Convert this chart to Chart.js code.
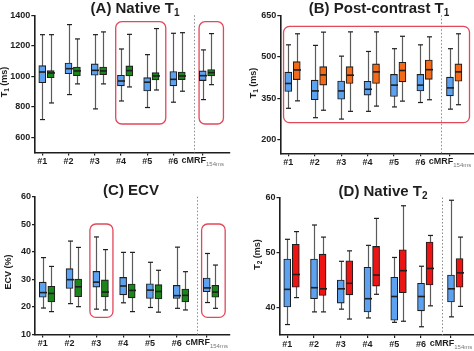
<!DOCTYPE html>
<html>
<head>
<meta charset="utf-8">
<script src="https://cdn.jsdelivr.net/npm/chart.js@4.4.0/dist/chart.umd.min.js"></script>
<style>
  html, body { margin: 0; padding: 0; background: #fff; }
  #wrap { position: relative; width: 474px; height: 351px; overflow: hidden; }
  canvas { position: absolute; }
</style>
</head>
<body>
<div id="wrap">
  <canvas id="pA" width="237" height="175" style="left:0;top:0"></canvas>
  <canvas id="pB" width="237" height="175" style="left:237px;top:0"></canvas>
  <canvas id="pC" width="237" height="176" style="left:0;top:175px"></canvas>
  <canvas id="pD" width="237" height="176" style="left:237px;top:175px"></canvas>
</div>
<script>
const categories = ["#1", "#2", "#3", "#4", "#5", "#6", "cMRF"];

// each entry: [min, q1, median, q3, max]
const nativeT1Blue = [[716, 958, 1028, 1070, 1273], [880, 1017, 1050, 1087, 1339], [786, 1007, 1039, 1081, 1273], [838, 937, 969, 1007, 1179], [795, 904, 961, 991, 1142], [830, 937, 980, 1031, 1282], [847, 972, 1004, 1035, 1173]];
const nativeT1Green = [[825, 991, 1022, 1037, 1273], [950, 1004, 1035, 1061, 1245], [950, 1011, 1035, 1061, 1291], [930, 1002, 1037, 1068, 1275], [910, 976, 1002, 1024, 1313], [902, 978, 1002, 1028, 1286], [945, 1002, 1024, 1044, 1280]];
const postT1Blue = [[313, 374, 403, 444, 543], [279, 344, 376, 415, 541], [274, 346, 376, 412, 502], [302, 361, 382, 411, 519], [318, 356, 397, 436, 529], [334, 376, 397, 436, 543], [310, 358, 387, 426, 529]];
const postT1Orange = [[340, 417, 452, 482, 583], [306, 397, 434, 464, 589], [302, 403, 433, 464, 590], [321, 403, 445, 474, 590], [339, 409, 450, 480, 574], [344, 418, 453, 488, 572], [326, 411, 445, 474, 583]];
const ecvBlue = [[19.6, 23.5, 25.2, 29.0, 37.9], [21.2, 26.7, 29.9, 33.9, 43.9], [19.2, 27.2, 29.0, 32.9, 45.4], [21.5, 24.4, 27.6, 30.7, 39.8], [19.8, 23.1, 26.1, 28.4, 36.2], [19.5, 23.1, 24.1, 27.8, 41.7], [21.6, 25.5, 26.9, 30.5, 39.4]];
const ecvGreen = [[18.3, 21.8, 24.9, 27.5, 34.7], [20.1, 23.7, 27.3, 30.1, 41.6], [18.9, 23.6, 25.4, 29.8, 40.8], [18.3, 23.3, 26.0, 28.3, 39.8], [18.1, 22.9, 25.6, 28.1, 33.3], [18.9, 21.8, 24.2, 26.5, 32.8], [19.5, 23.5, 25.4, 27.8, 35.2]];
const nativeT2Blue = [[36.9, 40.1, 43.3, 48.8, 52.4], [39.2, 41.6, 43.6, 48.8, 55.0], [39.7, 40.8, 43.4, 45.0, 48.4], [38.1, 39.2, 41.6, 47.3, 51.3], [37.3, 37.7, 42.0, 45.5, 49.1], [36.5, 39.4, 42.0, 44.4, 47.5], [38.3, 41.0, 43.4, 45.9, 59.5]];
const nativeT2Red = [[41.8, 43.7, 46.0, 51.5, 53.8], [39.2, 42.2, 43.4, 49.7, 52.8], [37.9, 42.3, 44.4, 48.5, 50.3], [42.4, 43.9, 45.9, 51.1, 56.2], [37.5, 42.7, 46.7, 50.5, 58.5], [40.3, 44.1, 47.1, 51.9, 53.1], [40.2, 43.7, 46.3, 48.9, 52.8]];

const nativeT1Ticks = [600, 800, 1000, 1200, 1400];
const postT1Ticks = [200, 350, 500, 650];
const ecvTicks = [10, 20, 30, 40, 50, 60];
const nativeT2Ticks = [40, 50, 60];

// layout: category slots on a linear x axis (cMRF set apart by the divider)
const slotPos = [1, 2, 3, 4, 5, 6, 7.12];
const pairShift = 0.32;
const dividerAt = 6.77;
const FONT = '"Liberation Sans", Arial, sans-serif';
const INK = "#1e1e1e";

const boxPlugin = {
  id: "boxes",
  beforeDatasetsDraw(chart) {
    const { ctx, chartArea: a, scales: { x, y } } = chart;
    const p = chart.options.plugins.boxes;
    ctx.save();
    // divider
    const dx = Math.round(x.getPixelForValue(dividerAt)) + 0.5;
    ctx.strokeStyle = "#8a8a8a";
    ctx.lineWidth = 1;
    ctx.setLineDash([1.5, 2]);
    ctx.beginPath();
    ctx.moveTo(dx, a.top);
    ctx.lineTo(dx, a.bottom);
    ctx.stroke();
    ctx.setLineDash([]);
    // highlight frames
    ctx.strokeStyle = "#e2475a";
    ctx.lineWidth = 1.3;
    p.frames.forEach(([x0, x1, y0, y1]) => {
      const l = x.getPixelForValue(x0), r = x.getPixelForValue(x1);
      const t = y.getPixelForValue(y1), b = y.getPixelForValue(y0);
      ctx.beginPath();
      ctx.roundRect(l, t, r - l, b - t, 6);
      ctx.stroke();
    });
    // whisker stems
    ctx.strokeStyle = "#5a5a5a";
    ctx.lineWidth = 1.2;
    p.stats.forEach((series, si) => {
      series.forEach((s, i) => {
        const px = Math.round(x.getPixelForValue(slotPos[i] + si * pairShift)) + 0.5;
        ctx.beginPath();
        ctx.moveTo(px, y.getPixelForValue(s[0]));
        ctx.lineTo(px, y.getPixelForValue(s[4]));
        ctx.stroke();
      });
    });
    ctx.restore();
  },
  afterDatasetsDraw(chart) {
    const { ctx, scales: { x, y } } = chart;
    const p = chart.options.plugins.boxes;
    ctx.save();
    ctx.strokeStyle = INK;
    p.stats.forEach((series, si) => {
      series.forEach((s, i) => {
        const px = Math.round(x.getPixelForValue(slotPos[i] + si * pairShift)) + 0.5;
        ctx.lineWidth = 1.2;
        [s[0], s[4]].forEach((v) => {
          const py = y.getPixelForValue(v);
          ctx.beginPath();
          ctx.moveTo(px - 2.5, py);
          ctx.lineTo(px + 2.5, py);
          ctx.stroke();
        });
        ctx.lineWidth = 1.6;
        const my = y.getPixelForValue(s[2]);
        ctx.beginPath();
        ctx.moveTo(px - 3.5, my);
        ctx.lineTo(px + 3.5, my);
        ctx.stroke();
      });
    });
    ctx.restore();
  },
  afterDraw(chart) {
    const { ctx, scales: { x } } = chart;
    const p = chart.options.plugins.boxes;
    ctx.save();
    ctx.fillStyle = INK;
    ctx.textBaseline = "alphabetic";
    // panel title
    ctx.font = "bold 15px " + FONT;
    const mainW = ctx.measureText(p.title[0]).width;
    ctx.font = "bold 10px " + FONT;
    const subW = p.title[1] ? ctx.measureText(p.title[1]).width : 0;
    let tx = p.titleAt[0] - (mainW + subW) / 2;
    ctx.font = "bold 15px " + FONT;
    ctx.textAlign = "left";
    ctx.fillText(p.title[0], tx, p.titleAt[1]);
    if (p.title[1]) {
      ctx.font = "bold 10px " + FONT;
      ctx.fillText(p.title[1], tx + mainW, p.titleAt[1] + 3);
    }
    // y axis title (rotated)
    const parts = p.yTitle;
    ctx.font = "bold 9px " + FONT;
    const w0 = ctx.measureText(parts[0]).width;
    const w2 = ctx.measureText(parts[2]).width;
    ctx.font = "bold 6.5px " + FONT;
    const w1 = parts[1] ? ctx.measureText(parts[1]).width : 0;
    ctx.translate(p.yTitleAt[0], p.yTitleAt[1]);
    ctx.rotate(-Math.PI / 2);
    ctx.textBaseline = "middle";
    let ox = -(w0 + w1 + w2) / 2;
    ctx.font = "bold 9px " + FONT;
    ctx.fillText(parts[0], ox, 0);
    if (parts[1]) {
      ctx.font = "bold 6.5px " + FONT;
      ctx.fillText(parts[1], ox + w0, 2.5);
    }
    ctx.font = "bold 9px " + FONT;
    ctx.fillText(parts[2], ox + w0 + w1, 0);
    ctx.setTransform(1, 0, 0, 1, 0, 0);
    // cMRF tick label with subscript
    const cx = x.getPixelForValue(slotPos[6]);
    const ty = x.top + 4;
    ctx.textBaseline = "top";
    ctx.font = "bold 9px " + FONT;
    const cw = ctx.measureText("cMRF").width;
    ctx.font = "6px " + FONT;
    const sw = ctx.measureText("154ms").width;
    const sx = cx - (cw + sw) / 2;
    ctx.font = "bold 9px " + FONT;
    ctx.fillStyle = INK;
    ctx.fillText("cMRF", sx, ty);
    ctx.font = "6px " + FONT;
    ctx.fillStyle = "#777";
    ctx.fillText("154ms", sx + cw, ty + 5);
    ctx.restore();
  }
};

function makePanel(id, cfg) {
  const canvas = document.getElementById(id);
  const W = canvas.width, H = canvas.height;
  const tickFont = { family: FONT, size: 9, weight: "bold" };
  const toBars = (stats, shift) => stats.map((s, i) => ({ x: slotPos[i] + shift, y: [s[1], s[3]] }));
  return new Chart(canvas, {
    type: "bar",
    data: {
      datasets: [
        { data: toBars(cfg.blue, 0), backgroundColor: "#5ca2f0", borderColor: INK, borderWidth: 1.1, borderSkipped: false },
        { data: toBars(cfg.other, pairShift), backgroundColor: cfg.otherColor, borderColor: INK, borderWidth: 1.1, borderSkipped: false }
      ]
    },
    options: {
      responsive: false,
      animation: false,
      events: [],
      datasets: { bar: { grouped: false, barThickness: 7 } },
      layout: { padding: { left: 0, top: cfg.area.top, right: W - cfg.area.right, bottom: 0 } },
      plugins: {
        legend: { display: false },
        tooltip: { enabled: false },
        boxes: {
          stats: [cfg.blue, cfg.other],
          frames: cfg.frames,
          title: cfg.title,
          titleAt: cfg.titleAt,
          yTitle: cfg.yTitle,
          yTitleAt: cfg.yTitleAt
        }
      },
      scales: {
        x: {
          type: "linear",
          min: cfg.xRange[0],
          max: cfg.xRange[1],
          offset: false,
          afterBuildTicks: (s) => { s.ticks = slotPos.map((v) => ({ value: v })); },
          afterFit: (s) => { s.height = H - cfg.area.bottom; },
          ticks: {
            autoSkip: false,
            maxRotation: 0,
            padding: 1,
            color: INK,
            font: tickFont,
            callback: (v, i) => (i < 6 ? categories[i] : "")
          },
          grid: { offset: false, drawOnChartArea: false, drawTicks: true, tickLength: 3, color: INK, lineWidth: 1.2 },
          border: { display: true, color: INK, width: 1.6 }
        },
        y: {
          min: cfg.yRange[0],
          max: cfg.yRange[1],
          afterBuildTicks: (s) => { s.ticks = cfg.yTicks.map((v) => ({ value: v })); },
          afterFit: (s) => { s.width = cfg.area.left; },
          ticks: { padding: 1, color: INK, font: tickFont, callback: (v) => String(v) },
          grid: { drawOnChartArea: false, drawTicks: true, tickLength: 3, color: INK, lineWidth: 1.2 },
          border: { display: true, color: INK, width: 1.6 }
        }
      }
    },
    plugins: [boxPlugin]
  });
}

makePanel("pA", {
  blue: nativeT1Blue, other: nativeT1Green, otherColor: "#1a861a",
  area: { left: 34.3, top: 15.3, right: 230, bottom: 152.5 },
  xRange: [0.695, 8.16], yRange: [500, 1400], yTicks: nativeT1Ticks,
  frames: [[3.8, 5.71, 687, 1358], [6.98, 7.91, 687, 1358]],
  title: ["(A) Native T", "1"], titleAt: [135, 12.5],
  yTitle: ["T", "1", " (ms)"], yTitleAt: [5, 82]
});
makePanel("pB", {
  blue: postT1Blue, other: postT1Orange, otherColor: "#f36b18",
  area: { left: 43.3, top: 15.3, right: 237, bottom: 153.3 },
  xRange: [0.697, 8.03], yRange: [150, 650], yTicks: postT1Ticks,
  frames: [[0.82, 7.86, 261, 610]],
  title: ["(B) Post-contrast T", "1"], titleAt: [142, 12.5],
  yTitle: ["T", "1", " (ms)"], yTitleAt: [17, 83]
});
makePanel("pC", {
  blue: ecvBlue, other: ecvGreen, otherColor: "#1a861a",
  area: { left: 35, top: 21.7, right: 230, bottom: 159.5 },
  xRange: [0.71, 7.99], yRange: [10, 60], yTicks: ecvTicks,
  frames: [[2.76, 3.62, 16.2, 50.1], [6.93, 7.81, 16.2, 50.1]],
  title: ["(C) ECV", ""], titleAt: [131, 20],
  yTitle: ["ECV (%)", "", ""], yTitleAt: [9, 97]
});
makePanel("pD", {
  blue: nativeT2Blue, other: nativeT2Red, otherColor: "#ee1414",
  area: { left: 42.5, top: 22.5, right: 237, bottom: 160 },
  xRange: [0.71, 7.98], yRange: [35, 60], yTicks: nativeT2Ticks,
  frames: [],
  title: ["(D) Native T", "2"], titleAt: [146, 20.5],
  yTitle: ["T", "2", " (ms)"], yTitleAt: [21, 79.5]
});
</script>
</body>
</html>
